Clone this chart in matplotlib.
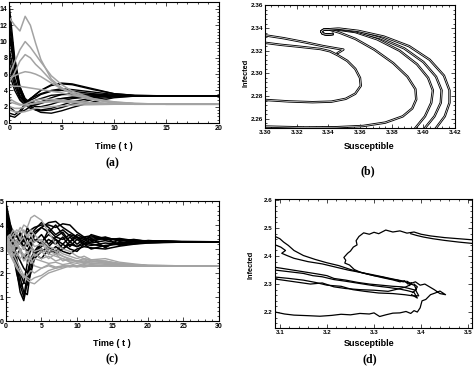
import matplotlib
matplotlib.use('Agg')
import matplotlib.pyplot as plt
from matplotlib.ticker import AutoMinorLocator

# ---------------- data ----------------
# (a) deterministic trajectories, common time grid
t_a = [0, 0.5, 1, 1.5, 2, 2.5, 3, 4, 5, 6, 8, 10, 12, 15, 20]
black_a = [
    [14.2, 8.0, 4.5, 2.8, 2.2, 2.0, 2.0, 2.3, 2.7, 3.0, 3.25, 3.32, 3.33, 3.33, 3.33],
    [12.0, 7.0, 4.0, 2.6, 2.0, 1.7, 1.6, 1.8, 2.2, 2.6, 3.1, 3.3, 3.33, 3.33, 3.33],
    [10.5, 6.5, 3.8, 2.5, 2.2, 2.2, 2.4, 2.8, 3.0, 3.2, 3.3, 3.33, 3.33, 3.33, 3.33],
    [9.0, 5.5, 3.4, 2.6, 2.8, 3.1, 3.5, 3.9, 4.0, 3.9, 3.6, 3.4, 3.34, 3.33, 3.33],
    [8.0, 5.0, 3.2, 2.6, 2.9, 3.5, 4.0, 4.7, 4.9, 4.8, 4.2, 3.6, 3.38, 3.33, 3.33],
    [7.0, 4.5, 3.0, 2.4, 2.5, 2.8, 3.0, 3.4, 3.5, 3.5, 3.4, 3.35, 3.33, 3.33, 3.33],
    [6.0, 4.0, 2.8, 2.2, 1.8, 1.6, 1.5, 1.6, 1.9, 2.3, 2.9, 3.2, 3.3, 3.33, 3.33],
    [0.9, 0.7, 1.2, 2.2, 3.0, 3.5, 4.0, 4.6, 4.8, 4.7, 4.1, 3.6, 3.4, 3.33, 3.33],
    [1.2, 1.0, 1.5, 2.4, 3.0, 3.3, 3.6, 4.0, 4.2, 4.1, 3.8, 3.5, 3.35, 3.33, 3.33],
    [2.0, 1.4, 1.3, 1.6, 2.0, 2.3, 2.5, 2.8, 3.0, 3.1, 3.25, 3.3, 3.33, 3.33, 3.33],
    [11.0, 7.0, 4.2, 2.8, 2.1, 1.6, 1.3, 1.2, 1.5, 1.9, 2.6, 3.1, 3.3, 3.33, 3.33],
    [13.0, 7.5, 4.4, 3.0, 2.5, 2.5, 2.6, 3.1, 3.5, 3.6, 3.5, 3.4, 3.34, 3.33, 3.33],
]
gray_a = [
    [12.9, 12.0, 11.3, 13.1, 12.0, 9.8, 7.8, 5.4, 4.3, 3.6, 2.9, 2.5, 2.35, 2.3, 2.3],
    [6.0, 7.5, 9.0, 10.0, 9.3, 8.4, 7.5, 5.8, 4.7, 3.9, 3.0, 2.6, 2.4, 2.3, 2.3],
    [5.0, 6.2, 7.6, 8.4, 8.0, 7.2, 6.6, 5.2, 4.3, 3.7, 2.9, 2.55, 2.4, 2.3, 2.3],
    [5.5, 5.8, 6.1, 6.3, 6.2, 6.0, 5.7, 4.9, 4.2, 3.6, 2.9, 2.5, 2.35, 2.3, 2.3],
    [4.6, 4.5, 4.5, 4.4, 4.3, 4.2, 4.1, 3.9, 3.7, 3.4, 2.9, 2.5, 2.35, 2.3, 2.3],
    [2.6, 2.4, 2.2, 2.3, 2.6, 2.8, 2.9, 2.9, 2.8, 2.7, 2.5, 2.4, 2.3, 2.3, 2.3],
    [1.6, 1.4, 1.3, 1.4, 1.6, 1.8, 1.9, 2.0, 2.1, 2.2, 2.25, 2.3, 2.3, 2.3, 2.3],
    [3.0, 2.6, 2.3, 2.2, 2.3, 2.4, 2.5, 2.6, 2.6, 2.5, 2.4, 2.35, 2.3, 2.3, 2.3],
    [2.0, 1.8, 1.8, 2.0, 2.3, 2.5, 2.6, 2.7, 2.7, 2.6, 2.45, 2.35, 2.3, 2.3, 2.3],
]

# (b) phase portrait, deterministic
curl_x = [3.341, 3.337, 3.3355, 3.3365, 3.3395, 3.3425]
curl_y = [2.3390, 2.3385, 2.3370, 2.3350, 2.3342, 2.3347]
phase_b = [
    ([3.300, 3.325, 3.345, 3.362, 3.376, 3.387, 3.393, 3.3955, 3.395, 3.390, 3.381, 3.369, 3.357, 3.347, 3.341],
     [2.2530, 2.2522, 2.2524, 2.2535, 2.2565, 2.2620, 2.2690, 2.2770, 2.2860, 2.2970, 2.3090, 2.3210, 2.3305, 2.3360, 2.3385]),
    ([3.395, 3.401, 3.405, 3.406, 3.403, 3.396, 3.385, 3.371, 3.357, 3.345],
     [2.2517, 2.262, 2.274, 2.285, 2.296, 2.308, 2.320, 2.330, 2.3365, 2.3388]),
    ([3.401, 3.407, 3.411, 3.4115, 3.408, 3.400, 3.388, 3.373, 3.358, 3.346],
     [2.2517, 2.262, 2.274, 2.285, 2.297, 2.310, 2.322, 2.331, 2.337, 2.3392]),
    ([3.408, 3.4135, 3.4165, 3.4165, 3.413, 3.404, 3.391, 3.375, 3.359, 3.347],
     [2.2517, 2.262, 2.274, 2.285, 2.298, 2.312, 2.324, 2.3325, 2.3375, 2.3395]),
]
inner_b_x = [3.300, 3.315, 3.330, 3.342, 3.351, 3.357, 3.3605, 3.360, 3.357, 3.352, 3.346,
             3.341, 3.335, 3.322, 3.310, 3.300]
inner_b_y = [2.2765, 2.2752, 2.2745, 2.2750, 2.2775, 2.2820, 2.2890, 2.2960, 2.3040, 2.3110,
             2.3160, 2.3195, 2.3215, 2.3235, 2.3252, 2.3270]
tongue_b_x = [3.300, 3.312, 3.325, 3.337, 3.346, 3.3495, 3.346]
tongue_b_y = [2.3336, 2.3310, 2.3275, 2.3240, 2.3218, 2.3210, 2.3180]

# (c) stochastic trajectories
t_c = [0, 0.5, 1, 1.5, 2, 2.5, 3, 3.5, 4, 5, 6, 7, 8, 9, 10, 11, 12, 14, 16, 18, 20, 25, 30]
black_c = [
    [4.8, 3.9, 3.0, 2.1, 1.2, 0.85, 1.6, 2.6, 2.9, 3.1, 3.4, 3.2, 3.5, 3.1, 3.4, 3.2, 3.45, 3.05, 3.42, 3.22, 3.35, 3.3, 3.3],
    [4.6, 4.0, 3.2, 2.4, 1.5, 1.0, 1.9, 2.5, 2.7, 3.3, 3.6, 3.4, 3.0, 3.3, 3.5, 3.2, 3.3, 3.48, 3.15, 3.38, 3.26, 3.31, 3.3],
    [4.5, 3.8, 2.8, 2.0, 1.4, 1.6, 2.4, 3.0, 3.6, 3.9, 4.1, 4.15, 3.9, 3.7, 3.5, 3.3, 3.6, 3.42, 3.40, 3.36, 3.33, 3.3, 3.3],
    [4.4, 4.1, 3.7, 3.5, 3.6, 3.3, 3.7, 3.8, 3.9, 4.0, 4.0, 3.9, 4.05, 4.0, 3.7, 3.5, 3.55, 3.38, 3.44, 3.35, 3.34, 3.3, 3.3],
    [4.2, 3.6, 3.4, 3.1, 3.3, 3.0, 3.5, 3.2, 3.7, 3.9, 3.7, 4.0, 3.6, 3.3, 3.1, 3.2, 3.0, 3.15, 3.2, 3.25, 3.28, 3.3, 3.3],
    [3.8, 3.5, 3.1, 2.8, 2.5, 2.2, 2.0, 2.6, 2.8, 3.0, 2.8, 3.1, 2.9, 2.8, 3.0, 3.1, 3.05, 3.0, 3.12, 3.2, 3.25, 3.29, 3.3],
    [4.9, 4.2, 3.4, 2.6, 1.8, 1.2, 1.1, 2.2, 2.8, 2.6, 3.0, 2.9, 3.2, 3.0, 2.9, 3.2, 3.15, 3.25, 3.18, 3.22, 3.27, 3.3, 3.3],
    [3.5, 3.7, 3.4, 3.6, 3.2, 3.4, 3.1, 3.5, 3.3, 3.6, 3.2, 3.5, 3.4, 3.6, 3.5, 3.4, 3.5, 3.46, 3.38, 3.36, 3.34, 3.31, 3.3],
    [4.0, 3.3, 2.9, 2.3, 2.0, 1.6, 1.5, 2.0, 2.6, 2.9, 3.1, 2.8, 3.0, 3.2, 3.1, 3.3, 3.2, 3.1, 3.28, 3.24, 3.31, 3.3, 3.3],
    [4.3, 3.7, 3.3, 3.0, 3.4, 3.1, 2.9, 3.2, 3.4, 3.2, 3.8, 3.5, 3.7, 3.3, 3.6, 3.45, 3.4, 3.5, 3.32, 3.4, 3.31, 3.3, 3.3],
    [3.6, 3.2, 3.0, 2.7, 3.0, 2.6, 2.8, 3.1, 2.9, 3.3, 3.1, 3.4, 3.2, 3.5, 3.2, 3.4, 3.25, 3.35, 3.22, 3.3, 3.29, 3.3, 3.3],
    [4.7, 3.9, 3.5, 3.2, 3.7, 3.4, 3.9, 3.6, 3.8, 4.1, 3.9, 3.6, 3.8, 3.55, 3.4, 3.5, 3.35, 3.44, 3.36, 3.32, 3.35, 3.3, 3.3],
]
gray_c = [
    [3.2, 3.4, 3.6, 3.8, 3.7, 4.0, 3.9, 4.3, 4.4, 4.2, 3.7, 3.2, 3.0, 2.9, 2.7, 2.6, 2.55, 2.5, 2.4, 2.35, 2.32, 2.3, 2.3],
    [3.3, 3.0, 2.8, 2.5, 2.2, 1.9, 1.7, 1.6, 1.55, 1.8, 2.0, 2.1, 2.2, 2.3, 2.25, 2.3, 2.28, 2.3, 2.3, 2.3, 2.3, 2.3, 2.3],
    [3.1, 3.3, 3.0, 3.2, 2.9, 3.1, 2.8, 3.0, 2.7, 2.9, 2.6, 2.8, 2.5, 2.6, 2.45, 2.5, 2.4, 2.42, 2.35, 2.33, 2.3, 2.3, 2.3],
    [3.4, 3.6, 3.3, 3.7, 3.4, 3.8, 3.5, 3.6, 3.3, 3.4, 3.1, 3.0, 2.8, 2.7, 2.6, 2.7, 2.55, 2.6, 2.45, 2.38, 2.32, 2.3, 2.3],
    [3.0, 2.8, 3.1, 2.7, 2.9, 2.5, 2.7, 2.4, 2.6, 2.5, 2.4, 2.45, 2.35, 2.4, 2.3, 2.4, 2.35, 2.32, 2.3, 2.3, 2.3, 2.3, 2.3],
    [3.2, 2.9, 2.6, 2.3, 2.0, 1.8, 1.9, 2.1, 2.0, 2.2, 2.3, 2.2, 2.3, 2.25, 2.3, 2.25, 2.3, 2.3, 2.3, 2.3, 2.3, 2.3, 2.3],
    [3.5, 3.2, 3.4, 3.1, 3.3, 3.5, 3.2, 3.4, 3.1, 3.2, 2.9, 2.8, 2.7, 2.55, 2.5, 2.6, 2.5, 2.45, 2.4, 2.35, 2.31, 2.3, 2.3],
    [2.9, 3.1, 2.7, 2.9, 2.6, 2.8, 2.4, 2.6, 2.3, 2.2, 2.35, 2.25, 2.3, 2.3, 2.3, 2.35, 2.3, 2.3, 2.3, 2.3, 2.3, 2.3, 2.3],
    [3.3, 3.5, 3.8, 3.6, 3.9, 3.7, 3.5, 3.8, 3.6, 3.3, 3.0, 2.9, 2.7, 2.6, 2.5, 2.55, 2.45, 2.5, 2.38, 2.34, 2.31, 2.3, 2.3],
    [3.0, 3.2, 2.9, 3.3, 3.0, 2.7, 2.9, 2.6, 2.8, 2.6, 2.7, 2.5, 2.6, 2.45, 2.4, 2.45, 2.4, 2.36, 2.34, 2.3, 2.3, 2.3, 2.3],
    [3.2, 2.8, 2.5, 2.2, 2.0, 1.9, 1.8, 1.7, 1.8, 1.9, 2.1, 2.2, 2.25, 2.3, 2.3, 2.3, 2.3, 2.3, 2.3, 2.3, 2.3, 2.3, 2.3],
    [3.6, 3.3, 3.1, 3.4, 3.2, 3.0, 3.3, 3.1, 2.9, 3.0, 2.8, 2.7, 2.6, 2.5, 2.5, 2.45, 2.5, 2.4, 2.36, 2.32, 2.3, 2.3, 2.3],
]

# (d) stochastic phase trajectories
phase_d = [
    ([3.090, 3.110, 3.130, 3.160, 3.185, 3.210, 3.230, 3.250, 3.270, 3.290, 3.300, 3.312, 3.325, 3.340, 3.355, 3.368, 3.378,
      3.385, 3.392, 3.398, 3.402, 3.410, 3.420, 3.430, 3.440, 3.452, 3.440, 3.428, 3.418, 3.408, 3.398, 3.388, 3.378, 3.370],
     [2.200, 2.193, 2.189, 2.187, 2.185, 2.188, 2.192, 2.190, 2.195, 2.193, 2.197, 2.184, 2.190, 2.196, 2.197, 2.202, 2.195,
      2.205, 2.200, 2.215, 2.240, 2.245, 2.262, 2.268, 2.275, 2.262, 2.266, 2.280, 2.290, 2.300, 2.296, 2.308, 2.302, 2.310]),
    ([3.510, 3.480, 3.450, 3.420, 3.400, 3.385, 3.370, 3.355, 3.340, 3.325, 3.310, 3.300, 3.290, 3.278, 3.268, 3.262,
      3.264, 3.256, 3.250, 3.244, 3.236, 3.240, 3.238, 3.248, 3.258, 3.270, 3.285, 3.300, 3.318, 3.335, 3.350, 3.362],
     [2.458, 2.462, 2.466, 2.472, 2.478, 2.486, 2.482, 2.490, 2.486, 2.493, 2.480, 2.485, 2.478, 2.483, 2.470, 2.455,
      2.440, 2.432, 2.418, 2.410, 2.395, 2.385, 2.375, 2.368, 2.352, 2.343, 2.336, 2.330, 2.325, 2.318, 2.314, 2.308]),
    ([3.510, 3.480, 3.450, 3.425, 3.405, 3.390, 3.378],
     [2.445, 2.450, 2.456, 2.462, 2.468, 2.474, 2.480]),
    ([3.090, 3.100, 3.108, 3.118, 3.130, 3.150, 3.175, 3.200, 3.225, 3.250, 3.275, 3.300, 3.320, 3.340, 3.355, 3.365, 3.372, 3.380, 3.375],
     [2.470, 2.462, 2.450, 2.438, 2.420, 2.402, 2.388, 2.376, 2.366, 2.352, 2.340, 2.330, 2.322, 2.315, 2.308, 2.312, 2.300, 2.305, 2.295]),
    ([3.090, 3.102, 3.112, 3.104, 3.115, 3.130, 3.160, 3.190, 3.220, 3.245, 3.270, 3.295, 3.318, 3.340, 3.358, 3.372, 3.386, 3.390, 3.382],
     [2.440, 2.432, 2.420, 2.410, 2.402, 2.392, 2.380, 2.372, 2.360, 2.350, 2.342, 2.334, 2.326, 2.318, 2.312, 2.305, 2.295, 2.280, 2.270]),
    ([3.090, 3.120, 3.150, 3.180, 3.200, 3.215, 3.240, 3.265, 3.290, 3.315, 3.340, 3.360, 3.375, 3.388, 3.392, 3.385],
     [2.360, 2.352, 2.344, 2.336, 2.330, 2.320, 2.314, 2.306, 2.300, 2.296, 2.292, 2.290, 2.284, 2.278, 2.290, 2.300]),
    ([3.090, 3.120, 3.150, 3.170, 3.190, 3.215, 3.240, 3.270, 3.300, 3.330, 3.355, 3.372, 3.385, 3.392, 3.380],
     [2.350, 2.344, 2.338, 2.330, 2.326, 2.316, 2.310, 2.302, 2.294, 2.288, 2.282, 2.276, 2.270, 2.250, 2.262]),
    ([3.090, 3.120, 3.150, 3.175, 3.200, 3.230, 3.255, 3.280, 3.310, 3.340, 3.365, 3.382, 3.395, 3.388],
     [2.325, 2.320, 2.314, 2.306, 2.296, 2.292, 2.280, 2.274, 2.268, 2.266, 2.262, 2.258, 2.258, 2.280]),
    ([3.090, 3.115, 3.140, 3.165, 3.190, 3.215, 3.240, 3.270, 3.300, 3.330, 3.350, 3.368, 3.380],
     [2.318, 2.312, 2.306, 2.300, 2.304, 2.290, 2.284, 2.280, 2.278, 2.274, 2.282, 2.290, 2.300]),
]

GRAY = '#a3a3a3'
SANS = ['Liberation Sans', 'DejaVu Sans']
SERIF = ['Liberation Serif', 'DejaVu Serif']


def frame(ax, xlim, ylim, xt, xtl, yt, ytl, fs=5):
    ax.set_xlim(xlim)
    ax.set_ylim(ylim)
    ax.set_xticks(xt)
    ax.set_xticklabels(xtl, fontweight='bold', family=SANS, fontsize=fs)
    ax.set_yticks(yt)
    ax.set_yticklabels(ytl, fontweight='bold', family=SANS, fontsize=fs)
    ax.xaxis.set_minor_locator(AutoMinorLocator(5))
    ax.yaxis.set_minor_locator(AutoMinorLocator(5))
    ax.tick_params(which='both', direction='in', top=True, right=True, pad=1.5, width=0.5)
    ax.tick_params(which='major', length=3)
    ax.tick_params(which='minor', length=1.5)
    for s in ax.spines.values():
        s.set_linewidth(0.8)


def double_line(ax, xs, ys):
    # the phase curves in (b) are drawn as thin double lines
    ax.plot(xs, ys, color='black', lw=1.7)
    ax.plot(xs, ys, color='white', lw=0.45)


fig = plt.figure(figsize=(4.74, 3.67), dpi=100)

# ---- (a)
ax_a = fig.add_axes([0.020, 0.6649, 0.441, 0.331])
for y in black_a:
    ax_a.plot(t_a, y, color='black', lw=1.0)
for y in gray_a:
    ax_a.plot(t_a, y, color=GRAY, lw=1.1)
frame(ax_a, (0, 20), (0, 14.92), [0, 5, 10, 15, 20], ['0', '5', '10', '15', '20'],
      list(range(0, 15, 2)), [str(v) for v in range(0, 15, 2)])

# ---- (b)
ax_b = fig.add_axes([0.559, 0.6512, 0.401, 0.334])
for xs, ys in phase_b:
    double_line(ax_b, xs + curl_x, ys + curl_y)
double_line(ax_b, inner_b_x, inner_b_y)
double_line(ax_b, tongue_b_x, tongue_b_y)
bx = [3.30, 3.32, 3.34, 3.36, 3.38, 3.40, 3.42]
by = [2.26, 2.28, 2.30, 2.32, 2.34, 2.36]
frame(ax_b, (3.30, 3.42), (2.2517, 2.36), bx, ['%.2f' % v for v in bx], by, ['%.2f' % v for v in by], fs=4.6)

# ---- (c)
ax_c = fig.add_axes([0.0127, 0.1253, 0.449, 0.327])
for y in black_c:
    ax_c.plot(t_c, y, color='black', lw=1.1)
for y in gray_c:
    ax_c.plot(t_c, y, color=GRAY, lw=1.0)
frame(ax_c, (0, 30), (0, 5), [0, 5, 10, 15, 20, 25, 30], ['0', '5', '10', '15', '20', '25', '30'],
      [0, 1, 2, 3, 4, 5], ['0', '1', '2', '3', '4', '5'])

# ---- (d)
ax_d = fig.add_axes([0.580, 0.1063, 0.416, 0.3515])
for xs, ys in phase_d:
    ax_d.plot(xs, ys, color='black', lw=0.9)
dx = [3.1, 3.2, 3.3, 3.4, 3.5]
dy = [2.2, 2.3, 2.4, 2.5, 2.6]
frame(ax_d, (3.0895, 3.5084), (2.143, 2.604), dx, ['%.1f' % v for v in dx], dy, ['%.1f' % v for v in dy], fs=4.5)

# ---- labels
lab = dict(fontweight='bold', family=SANS, fontsize=6.5, ha='center', va='center')
let = dict(fontweight='bold', family=SERIF, fontsize=8.5, ha='center', va='center')
ylab = dict(lab, fontsize=5.3)
fig.text(0.2405, 0.602, 'Time ( t )', **lab)
fig.text(0.238, 0.555, '(a)', **let)
fig.text(0.778, 0.600, 'Susceptible', **lab)
fig.text(0.776, 0.533, '(b)', **let)
fig.text(0.519, 0.801, 'Infected', rotation=90, **ylab)
fig.text(0.236, 0.065, 'Time ( t )', **lab)
fig.text(0.236, 0.020, '(c)', **let)
fig.text(0.530, 0.278, 'Infected', rotation=90, **ylab)
fig.text(0.778, 0.063, 'Susceptible', **lab)
fig.text(0.780, 0.020, '(d)', **let)

fig.savefig('out.png', dpi=100)
